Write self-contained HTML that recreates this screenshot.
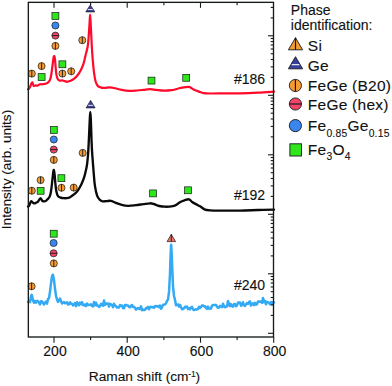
<!DOCTYPE html>
<html><head><meta charset="utf-8"><style>
html,body{margin:0;padding:0;background:#fff;}
svg{display:block;}
text{font-family:"Liberation Sans",sans-serif;fill:#111;stroke:#111;stroke-width:0.12px;}
</style></head><body>
<svg width="392" height="386" viewBox="0 0 392 386">
<g fill="none" stroke-linejoin="round" stroke-linecap="round">
<polyline points="28.0,301.9 29.0,301.2 30.0,302.1 31.0,296.7 31.6,294.8 32.0,295.7 33.0,300.4 34.0,302.8 35.0,300.8 36.0,302.6 37.0,301.0 38.0,301.1 39.0,302.6 40.0,304.4 41.0,301.2 42.0,301.5 43.0,303.1 44.0,304.4 45.0,302.6 46.0,301.6 47.0,303.6 48.0,298.9 49.0,298.3 50.0,291.6 51.0,283.3 52.0,276.4 52.7,274.7 53.0,275.0 54.0,280.2 55.0,288.6 56.0,295.9 57.0,299.5 58.0,301.9 59.0,300.4 60.0,298.5 61.0,301.3 62.0,303.5 63.0,302.5 64.0,302.0 65.0,303.3 66.0,302.8 67.0,302.3 68.0,304.5 69.0,304.2 70.0,302.3 71.0,303.8 72.0,303.7 73.0,305.4 74.0,304.8 75.0,303.0 76.0,306.1 77.0,302.3 78.0,303.7 79.0,305.2 80.0,302.6 81.0,304.1 82.0,302.2 83.0,305.0 84.0,305.4 85.0,304.6 86.0,306.0 87.0,303.5 88.0,305.2 89.0,304.8 90.0,304.8 91.0,304.3 92.0,306.0 93.0,306.5 94.0,302.0 95.0,305.3 96.0,302.7 97.0,305.6 98.0,305.4 99.0,306.9 100.0,306.2 101.0,303.9 102.0,304.4 103.0,305.7 104.0,300.4 105.0,304.9 106.0,303.7 107.0,303.5 108.0,303.4 109.0,306.5 110.0,303.8 111.0,304.4 112.0,305.1 113.0,307.3 114.0,303.8 115.0,305.5 116.0,306.0 117.0,307.6 118.0,307.3 119.0,307.6 120.0,305.1 121.0,305.8 122.0,305.6 123.0,307.9 124.0,308.3 125.0,304.9 126.0,305.0 127.0,305.4 128.0,305.5 129.0,306.8 130.0,307.3 131.0,306.0 132.0,305.0 133.0,307.0 134.0,306.9 135.0,307.9 136.0,309.7 137.0,308.7 138.0,308.0 139.0,308.6 140.0,309.0 141.0,306.3 142.0,310.1 143.0,309.6 144.0,310.1 145.0,309.8 146.0,308.1 147.0,308.2 148.0,306.9 149.0,309.3 150.0,306.9 151.0,306.8 152.0,307.3 153.0,307.0 154.0,307.7 155.0,306.3 156.0,306.0 157.0,306.5 158.0,306.1 159.0,307.1 160.0,305.5 161.0,308.7 162.0,307.2 163.0,304.8 164.0,304.7 165.0,304.3 166.0,303.3 167.0,300.9 168.0,299.6 169.0,291.9 170.0,273.7 170.6,255.8 171.0,246.2 171.2,244.8 171.8,255.9 172.0,262.1 173.0,286.3 174.0,296.0 175.0,299.9 176.0,305.3 177.0,305.1 178.0,304.4 179.0,306.6 180.0,304.8 181.0,307.2 182.0,309.3 183.0,309.0 184.0,308.4 185.0,306.7 186.0,307.2 187.0,306.5 188.0,309.1 189.0,308.2 190.0,309.3 191.0,307.3 192.0,306.9 193.0,309.4 194.0,310.1 195.0,309.6 196.0,309.3 197.0,309.4 198.0,309.0 199.0,306.7 200.0,307.9 201.0,307.1 202.0,305.5 203.0,305.4 204.0,306.4 205.0,306.2 206.0,307.9 207.0,308.9 208.0,306.6 209.0,308.6 210.0,308.7 211.0,308.5 212.0,305.8 213.0,305.1 214.0,305.1 215.0,304.9 216.0,304.9 217.0,306.7 218.0,307.8 219.0,307.5 220.0,305.9 221.0,306.5 222.0,307.1 223.0,303.8 224.0,306.3 225.0,307.3 226.0,306.6 227.0,306.4 228.0,301.1 229.0,303.7 230.0,306.2 231.0,304.1 232.0,306.1 233.0,306.7 234.0,304.1 235.0,304.0 236.0,306.3 237.0,305.3 238.0,302.7 239.0,302.4 240.0,302.4 241.0,305.7 242.0,305.2 243.0,302.3 244.0,305.3 245.0,305.9 246.0,304.4 247.0,303.0 248.0,303.9 249.0,302.0 250.0,301.4 251.0,305.6 252.0,304.0 253.0,303.4 254.0,305.1 255.0,302.8 256.0,304.6 257.0,304.3 258.0,301.5 259.0,301.6 260.0,301.7 261.0,301.4 262.0,302.9 263.0,298.0 264.0,302.1 265.0,300.9 266.0,304.3 267.0,301.8 268.0,302.2 269.0,302.8 270.0,304.2 271.0,302.0 272.0,304.2 273.0,302.3 274.0,302.4" stroke="#34a9f4" stroke-width="2.5"/>
<path d="M28.00,206.50 C28.15,206.42 28.60,206.38 28.90,206.00 C29.20,205.62 29.45,204.98 29.80,204.20 C30.15,203.42 30.63,201.70 31.00,201.30 C31.37,200.90 31.63,201.53 32.00,201.80 C32.37,202.07 32.78,202.63 33.20,202.90 C33.62,203.17 34.08,203.40 34.50,203.40 C34.92,203.40 35.28,203.08 35.70,202.90 C36.12,202.72 36.58,202.55 37.00,202.30 C37.42,202.05 37.80,201.88 38.20,201.40 C38.60,200.92 39.03,199.92 39.40,199.40 C39.77,198.88 40.08,198.32 40.40,198.30 C40.72,198.28 40.95,198.85 41.30,199.30 C41.65,199.75 42.03,200.67 42.50,201.00 C42.97,201.33 43.57,201.30 44.10,201.30 C44.63,201.30 45.17,201.30 45.70,201.00 C46.23,200.70 46.72,200.08 47.30,199.50 C47.88,198.92 48.67,198.42 49.20,197.50 C49.73,196.58 50.13,195.50 50.50,194.00 C50.87,192.50 51.10,190.75 51.40,188.50 C51.70,186.25 52.02,183.00 52.30,180.50 C52.58,178.00 52.85,175.27 53.10,173.50 C53.35,171.73 53.55,169.77 53.80,169.90 C54.05,170.03 54.33,172.00 54.60,174.30 C54.87,176.60 55.10,180.82 55.40,183.70 C55.70,186.58 55.97,189.53 56.40,191.60 C56.83,193.67 57.30,195.10 58.00,196.10 C58.70,197.10 59.65,197.25 60.60,197.60 C61.55,197.95 62.67,198.10 63.70,198.20 C64.73,198.30 65.75,198.37 66.80,198.20 C67.85,198.03 68.75,197.87 70.00,197.20 C71.25,196.53 73.00,195.30 74.30,194.20 C75.60,193.10 76.62,192.27 77.80,190.60 C78.98,188.93 80.33,186.45 81.40,184.20 C82.47,181.95 83.43,179.48 84.20,177.10 C84.97,174.72 85.52,172.05 86.00,169.90 C86.48,167.75 86.77,166.68 87.10,164.20 C87.43,161.72 87.75,158.20 88.00,155.00 C88.25,151.80 88.38,149.17 88.60,145.00 C88.82,140.83 89.10,134.33 89.30,130.00 C89.50,125.67 89.63,122.00 89.80,119.00 C89.97,116.00 90.13,112.00 90.30,112.00 C90.47,112.00 90.65,116.00 90.80,119.00 C90.95,122.00 91.07,126.17 91.20,130.00 C91.33,133.83 91.45,138.33 91.60,142.00 C91.75,145.67 91.90,148.77 92.10,152.00 C92.30,155.23 92.52,157.70 92.80,161.40 C93.08,165.10 93.45,170.17 93.80,174.20 C94.15,178.23 94.35,182.03 94.90,185.60 C95.45,189.17 96.27,193.22 97.10,195.60 C97.93,197.98 98.98,198.95 99.90,199.90 C100.82,200.85 101.52,201.08 102.60,201.30 C103.68,201.52 105.03,201.28 106.40,201.20 C107.77,201.12 109.32,200.57 110.80,200.80 C112.28,201.03 113.48,201.93 115.30,202.60 C117.12,203.27 119.57,204.27 121.70,204.80 C123.83,205.33 125.77,205.73 128.10,205.80 C130.43,205.87 133.15,205.48 135.70,205.20 C138.25,204.92 141.02,204.42 143.40,204.10 C145.78,203.78 148.27,203.32 150.00,203.30 C151.73,203.28 152.27,203.55 153.80,204.00 C155.33,204.45 157.28,205.55 159.20,206.00 C161.12,206.45 163.00,206.68 165.30,206.70 C167.60,206.72 171.08,206.45 173.00,206.10 C174.92,205.75 175.65,205.25 176.80,204.60 C177.95,203.95 178.62,202.92 179.90,202.20 C181.18,201.48 182.98,200.78 184.50,200.30 C186.02,199.82 187.73,199.02 189.00,199.30 C190.27,199.58 190.95,201.20 192.10,202.00 C193.25,202.80 194.50,203.33 195.90,204.10 C197.30,204.87 199.08,205.73 200.50,206.60 C201.92,207.47 202.82,208.68 204.40,209.30 C205.98,209.92 207.40,210.08 210.00,210.30 C212.60,210.52 215.00,210.55 220.00,210.60 C225.00,210.65 233.65,210.70 240.00,210.60 C246.35,210.50 252.43,210.17 258.10,210.00 C263.77,209.83 271.35,209.67 274.00,209.60" stroke="#0a0a0a" stroke-width="2.35"/>
<path d="M28.00,89.20 C28.15,89.13 28.55,89.18 28.90,88.80 C29.25,88.42 29.68,87.80 30.10,86.90 C30.52,86.00 31.03,84.15 31.40,83.40 C31.77,82.65 32.05,82.33 32.30,82.40 C32.55,82.47 32.70,83.28 32.90,83.80 C33.10,84.32 33.23,85.13 33.50,85.50 C33.77,85.87 34.13,86.02 34.50,86.00 C34.87,85.98 35.28,85.45 35.70,85.40 C36.12,85.35 36.58,85.75 37.00,85.70 C37.42,85.65 37.80,85.32 38.20,85.10 C38.60,84.88 38.98,84.57 39.40,84.40 C39.82,84.23 40.28,84.10 40.70,84.10 C41.12,84.10 41.48,84.40 41.90,84.40 C42.32,84.40 42.68,84.20 43.20,84.10 C43.72,84.00 44.38,83.93 45.00,83.80 C45.62,83.67 46.30,83.60 46.90,83.30 C47.50,83.00 48.07,82.62 48.60,82.00 C49.13,81.38 49.65,80.85 50.10,79.60 C50.55,78.35 50.90,76.85 51.30,74.50 C51.70,72.15 52.13,68.32 52.50,65.50 C52.87,62.68 53.22,59.17 53.50,57.60 C53.78,56.03 53.97,55.98 54.20,56.10 C54.43,56.22 54.67,56.55 54.90,58.30 C55.13,60.05 55.35,63.88 55.60,66.60 C55.85,69.32 56.00,72.45 56.40,74.60 C56.80,76.75 57.38,78.50 58.00,79.50 C58.62,80.50 59.42,80.47 60.10,80.60 C60.78,80.73 61.33,80.22 62.10,80.30 C62.87,80.38 63.83,80.85 64.70,81.10 C65.57,81.35 66.42,81.83 67.30,81.80 C68.18,81.77 68.90,81.38 70.00,80.90 C71.10,80.42 72.60,79.88 73.90,78.90 C75.20,77.92 76.62,76.52 77.80,75.00 C78.98,73.48 80.03,71.75 81.00,69.80 C81.97,67.85 82.85,65.68 83.60,63.30 C84.35,60.92 84.97,57.65 85.50,55.50 C86.03,53.35 86.40,52.12 86.80,50.40 C87.20,48.68 87.58,47.60 87.90,45.20 C88.22,42.80 88.43,39.53 88.70,36.00 C88.97,32.47 89.27,27.57 89.50,24.00 C89.73,20.43 89.90,14.60 90.10,14.60 C90.30,14.60 90.50,20.43 90.70,24.00 C90.90,27.57 91.10,32.03 91.30,36.00 C91.50,39.97 91.67,43.90 91.90,47.80 C92.13,51.70 92.35,55.30 92.70,59.40 C93.05,63.50 93.52,68.72 94.00,72.40 C94.48,76.08 94.97,79.23 95.60,81.50 C96.23,83.77 97.07,85.07 97.80,86.00 C98.53,86.93 99.32,86.80 100.00,87.10 C100.68,87.40 101.05,87.68 101.90,87.80 C102.75,87.92 103.72,87.88 105.10,87.80 C106.48,87.72 108.50,87.22 110.20,87.30 C111.90,87.38 113.38,87.87 115.30,88.30 C117.22,88.73 119.37,89.47 121.70,89.90 C124.03,90.33 126.75,90.80 129.30,90.90 C131.85,91.00 134.65,90.67 137.00,90.50 C139.35,90.33 141.23,90.12 143.40,89.90 C145.57,89.68 147.88,89.20 150.00,89.20 C152.12,89.20 153.80,89.65 156.10,89.90 C158.40,90.15 161.25,90.65 163.80,90.70 C166.35,90.75 169.10,90.53 171.40,90.20 C173.70,89.87 175.80,89.13 177.60,88.70 C179.40,88.27 180.30,87.90 182.20,87.60 C184.10,87.30 187.10,86.60 189.00,86.90 C190.90,87.20 191.93,88.62 193.60,89.40 C195.27,90.18 197.33,90.98 199.00,91.60 C200.67,92.22 201.77,92.78 203.60,93.10 C205.43,93.42 206.43,93.45 210.00,93.50 C213.57,93.55 220.00,93.43 225.00,93.40 C230.00,93.37 234.48,93.43 240.00,93.30 C245.52,93.17 252.43,92.88 258.10,92.60 C263.77,92.32 271.35,91.77 274.00,91.60" stroke="#ff0a2a" stroke-width="2.2"/>
</g>
<rect x="51.949999999999996" y="12.55" width="6.9" height="6.9" fill="#2ee61a" stroke="#151a1a" stroke-width="0.7"/><circle cx="55.4" cy="25.5" r="3.55" fill="#3a86f0" stroke="#151a1a" stroke-width="0.7"/><circle cx="55.4" cy="35.6" r="3.55" fill="#ef4466" stroke="#151a1a" stroke-width="0.7"/><line x1="51.85" y1="35.6" x2="58.949999999999996" y2="35.6" stroke="#151a1a" stroke-width="0.9099999999999999"/><circle cx="55.4" cy="45.9" r="3.55" fill="#f59b32" stroke="#151a1a" stroke-width="0.7"/><line x1="55.4" y1="42.35" x2="55.4" y2="49.449999999999996" stroke="#151a1a" stroke-width="0.9099999999999999"/><circle cx="31.8" cy="73.6" r="3.55" fill="#f59b32" stroke="#151a1a" stroke-width="0.7"/><line x1="31.8" y1="70.05" x2="31.8" y2="77.14999999999999" stroke="#151a1a" stroke-width="0.9099999999999999"/><circle cx="41.6" cy="66.1" r="3.55" fill="#f59b32" stroke="#151a1a" stroke-width="0.7"/><line x1="41.6" y1="62.55" x2="41.6" y2="69.64999999999999" stroke="#151a1a" stroke-width="0.9099999999999999"/><rect x="38.15" y="73.64999999999999" width="6.9" height="6.9" fill="#2ee61a" stroke="#151a1a" stroke-width="0.7"/><rect x="58.949999999999996" y="60.849999999999994" width="6.9" height="6.9" fill="#2ee61a" stroke="#151a1a" stroke-width="0.7"/><circle cx="62.4" cy="73.6" r="3.55" fill="#f59b32" stroke="#151a1a" stroke-width="0.7"/><line x1="62.4" y1="70.05" x2="62.4" y2="77.14999999999999" stroke="#151a1a" stroke-width="0.9099999999999999"/><circle cx="71.2" cy="71.3" r="3.55" fill="#f59b32" stroke="#151a1a" stroke-width="0.7"/><line x1="71.2" y1="67.75" x2="71.2" y2="74.85" stroke="#151a1a" stroke-width="0.9099999999999999"/><circle cx="82.3" cy="40.2" r="3.55" fill="#f59b32" stroke="#151a1a" stroke-width="0.7"/><line x1="82.3" y1="36.650000000000006" x2="82.3" y2="43.75" stroke="#151a1a" stroke-width="0.9099999999999999"/><polygon points="90.3,4.9 85.8,11.9 94.8,11.9" fill="#3b3f9c" stroke="#151a1a" stroke-width="0.7" stroke-linejoin="miter"/><line x1="87.86999999999999" y1="9.52" x2="92.73" y2="9.52" stroke="#fff" stroke-width="0.84"/><rect x="148.05" y="77.14999999999999" width="6.9" height="6.9" fill="#2ee61a" stroke="#151a1a" stroke-width="0.7"/><rect x="182.75" y="74.35" width="6.9" height="6.9" fill="#2ee61a" stroke="#151a1a" stroke-width="0.7"/><rect x="50.349999999999994" y="126.55" width="6.9" height="6.9" fill="#2ee61a" stroke="#151a1a" stroke-width="0.7"/><circle cx="53.8" cy="139.5" r="3.55" fill="#3a86f0" stroke="#151a1a" stroke-width="0.7"/><circle cx="53.8" cy="149.6" r="3.55" fill="#ef4466" stroke="#151a1a" stroke-width="0.7"/><line x1="50.25" y1="149.6" x2="57.349999999999994" y2="149.6" stroke="#151a1a" stroke-width="0.9099999999999999"/><circle cx="53.8" cy="159.9" r="3.55" fill="#f59b32" stroke="#151a1a" stroke-width="0.7"/><line x1="53.8" y1="156.35" x2="53.8" y2="163.45000000000002" stroke="#151a1a" stroke-width="0.9099999999999999"/><circle cx="31.8" cy="190.7" r="3.55" fill="#f59b32" stroke="#151a1a" stroke-width="0.7"/><line x1="31.8" y1="187.14999999999998" x2="31.8" y2="194.25" stroke="#151a1a" stroke-width="0.9099999999999999"/><circle cx="40.6" cy="180.1" r="3.55" fill="#f59b32" stroke="#151a1a" stroke-width="0.7"/><line x1="40.6" y1="176.54999999999998" x2="40.6" y2="183.65" stroke="#151a1a" stroke-width="0.9099999999999999"/><rect x="37.15" y="187.35000000000002" width="6.9" height="6.9" fill="#2ee61a" stroke="#151a1a" stroke-width="0.7"/><rect x="57.949999999999996" y="174.75" width="6.9" height="6.9" fill="#2ee61a" stroke="#151a1a" stroke-width="0.7"/><circle cx="61.5" cy="187.8" r="3.55" fill="#f59b32" stroke="#151a1a" stroke-width="0.7"/><line x1="61.5" y1="184.25" x2="61.5" y2="191.35000000000002" stroke="#151a1a" stroke-width="0.9099999999999999"/><circle cx="73.7" cy="187.6" r="3.55" fill="#f59b32" stroke="#151a1a" stroke-width="0.7"/><line x1="73.7" y1="184.04999999999998" x2="73.7" y2="191.15" stroke="#151a1a" stroke-width="0.9099999999999999"/><circle cx="82.7" cy="152.9" r="3.55" fill="#f59b32" stroke="#151a1a" stroke-width="0.7"/><line x1="82.7" y1="149.35" x2="82.7" y2="156.45000000000002" stroke="#151a1a" stroke-width="0.9099999999999999"/><polygon points="90.6,100.4 86.1,107.9 95.1,107.9" fill="#3b3f9c" stroke="#151a1a" stroke-width="0.7" stroke-linejoin="miter"/><line x1="88.16999999999999" y1="105.35000000000001" x2="93.03" y2="105.35000000000001" stroke="#fff" stroke-width="0.84"/><rect x="149.65" y="189.95000000000002" width="6.9" height="6.9" fill="#2ee61a" stroke="#151a1a" stroke-width="0.7"/><rect x="184.55" y="186.85000000000002" width="6.9" height="6.9" fill="#2ee61a" stroke="#151a1a" stroke-width="0.7"/><rect x="50.25" y="230.25" width="6.9" height="6.9" fill="#2ee61a" stroke="#151a1a" stroke-width="0.7"/><circle cx="53.6" cy="243" r="3.55" fill="#3a86f0" stroke="#151a1a" stroke-width="0.7"/><circle cx="53.6" cy="253.3" r="3.55" fill="#ef4466" stroke="#151a1a" stroke-width="0.7"/><line x1="50.050000000000004" y1="253.3" x2="57.15" y2="253.3" stroke="#151a1a" stroke-width="0.9099999999999999"/><circle cx="53.8" cy="263.4" r="3.55" fill="#f59b32" stroke="#151a1a" stroke-width="0.7"/><line x1="53.8" y1="259.84999999999997" x2="53.8" y2="266.95" stroke="#151a1a" stroke-width="0.9099999999999999"/><circle cx="31.6" cy="286.3" r="3.55" fill="#f59b32" stroke="#151a1a" stroke-width="0.7"/><line x1="31.6" y1="282.75" x2="31.6" y2="289.85" stroke="#151a1a" stroke-width="0.9099999999999999"/><polygon points="171.3,234.3 167.05,241.60000000000002 175.55,241.60000000000002" fill="#f07468" stroke="#151a1a" stroke-width="0.7" stroke-linejoin="miter"/><line x1="171.3" y1="234.3" x2="171.3" y2="241.60000000000002" stroke="#151a1a" stroke-width="0.9099999999999999"/>
<rect x="28.35" y="2.35" width="245.15" height="334.65" fill="none" stroke="#151a1a" stroke-width="1.35"/>
<g stroke="#151a1a" stroke-width="1.1"><line x1="54.0" y1="337.0" x2="54.0" y2="342.7"/><line x1="90.6" y1="337.0" x2="90.6" y2="340.0"/><line x1="127.2" y1="337.0" x2="127.2" y2="342.7"/><line x1="163.9" y1="337.0" x2="163.9" y2="340.0"/><line x1="200.5" y1="337.0" x2="200.5" y2="342.7"/><line x1="237.1" y1="337.0" x2="237.1" y2="340.0"/><line x1="273.7" y1="337.0" x2="273.7" y2="342.7"/><line x1="54.0" y1="2.35" x2="54.0" y2="7.85"/><line x1="90.6" y1="2.35" x2="90.6" y2="5.15"/><line x1="127.2" y1="2.35" x2="127.2" y2="7.85"/><line x1="163.9" y1="2.35" x2="163.9" y2="5.15"/><line x1="200.5" y1="2.35" x2="200.5" y2="7.85"/><line x1="237.1" y1="2.35" x2="237.1" y2="5.15"/><line x1="268.0" y1="35.8" x2="273.5" y2="35.8"/><line x1="268.0" y1="95.3" x2="273.5" y2="95.3"/><line x1="268.0" y1="154.8" x2="273.5" y2="154.8"/><line x1="268.0" y1="214.3" x2="273.5" y2="214.3"/><line x1="268.0" y1="273.8" x2="273.5" y2="273.8"/><line x1="268.0" y1="333.3" x2="273.5" y2="333.3"/><line x1="270.7" y1="17.9" x2="273.5" y2="17.9"/><line x1="270.7" y1="7.4" x2="273.5" y2="7.4"/><line x1="270.7" y1="77.4" x2="273.5" y2="77.4"/><line x1="270.7" y1="66.9" x2="273.5" y2="66.9"/><line x1="270.7" y1="59.5" x2="273.5" y2="59.5"/><line x1="270.7" y1="53.7" x2="273.5" y2="53.7"/><line x1="270.7" y1="49.0" x2="273.5" y2="49.0"/><line x1="270.7" y1="45.0" x2="273.5" y2="45.0"/><line x1="270.7" y1="41.6" x2="273.5" y2="41.6"/><line x1="270.7" y1="38.5" x2="273.5" y2="38.5"/><line x1="270.7" y1="136.9" x2="273.5" y2="136.9"/><line x1="270.7" y1="126.4" x2="273.5" y2="126.4"/><line x1="270.7" y1="119.0" x2="273.5" y2="119.0"/><line x1="270.7" y1="113.2" x2="273.5" y2="113.2"/><line x1="270.7" y1="108.5" x2="273.5" y2="108.5"/><line x1="270.7" y1="104.5" x2="273.5" y2="104.5"/><line x1="270.7" y1="101.1" x2="273.5" y2="101.1"/><line x1="270.7" y1="98.0" x2="273.5" y2="98.0"/><line x1="270.7" y1="196.4" x2="273.5" y2="196.4"/><line x1="270.7" y1="185.9" x2="273.5" y2="185.9"/><line x1="270.7" y1="178.5" x2="273.5" y2="178.5"/><line x1="270.7" y1="172.7" x2="273.5" y2="172.7"/><line x1="270.7" y1="168.0" x2="273.5" y2="168.0"/><line x1="270.7" y1="164.0" x2="273.5" y2="164.0"/><line x1="270.7" y1="160.6" x2="273.5" y2="160.6"/><line x1="270.7" y1="157.5" x2="273.5" y2="157.5"/><line x1="270.7" y1="255.9" x2="273.5" y2="255.9"/><line x1="270.7" y1="245.4" x2="273.5" y2="245.4"/><line x1="270.7" y1="238.0" x2="273.5" y2="238.0"/><line x1="270.7" y1="232.2" x2="273.5" y2="232.2"/><line x1="270.7" y1="227.5" x2="273.5" y2="227.5"/><line x1="270.7" y1="223.5" x2="273.5" y2="223.5"/><line x1="270.7" y1="220.1" x2="273.5" y2="220.1"/><line x1="270.7" y1="217.0" x2="273.5" y2="217.0"/><line x1="270.7" y1="315.4" x2="273.5" y2="315.4"/><line x1="270.7" y1="304.9" x2="273.5" y2="304.9"/><line x1="270.7" y1="297.5" x2="273.5" y2="297.5"/><line x1="270.7" y1="291.7" x2="273.5" y2="291.7"/><line x1="270.7" y1="287.0" x2="273.5" y2="287.0"/><line x1="270.7" y1="283.0" x2="273.5" y2="283.0"/><line x1="270.7" y1="279.6" x2="273.5" y2="279.6"/><line x1="270.7" y1="276.5" x2="273.5" y2="276.5"/></g>
<polygon points="295.5,37.7 288.4,49.800000000000004 302.6,49.800000000000004" fill="#f59b32" stroke="#151a1a" stroke-width="0.9" stroke-linejoin="miter"/><line x1="295.5" y1="37.7" x2="295.5" y2="49.800000000000004" stroke="#151a1a" stroke-width="1.1700000000000002"/><polygon points="295.5,56.7 288.4,68.8 302.6,68.8" fill="#3b3f9c" stroke="#151a1a" stroke-width="0.9" stroke-linejoin="miter"/><line x1="291.666" y1="64.686" x2="299.334" y2="64.686" stroke="#fff" stroke-width="1.08"/><circle cx="295.4" cy="85.5" r="6.1" fill="#f59b32" stroke="#151a1a" stroke-width="0.9"/><line x1="295.4" y1="79.4" x2="295.4" y2="91.6" stroke="#151a1a" stroke-width="1.1700000000000002"/><circle cx="295.4" cy="104" r="6.1" fill="#ef4466" stroke="#151a1a" stroke-width="0.9"/><line x1="289.29999999999995" y1="104" x2="301.5" y2="104" stroke="#151a1a" stroke-width="1.1700000000000002"/><circle cx="295.4" cy="125.6" r="6.1" fill="#3a86f0" stroke="#151a1a" stroke-width="0.9"/><rect x="289.9" y="143.8" width="11.6" height="12.2" fill="#2ee61a" stroke="#151a1a" stroke-width="0.9"/>
<g><text x="55.0" y="356" font-size="14" text-anchor="middle">200</text><text x="128.2" y="356" font-size="14" text-anchor="middle">400</text><text x="201.5" y="356" font-size="14" text-anchor="middle">600</text><text x="274.7" y="356" font-size="14" text-anchor="middle">800</text><text x="88.8" y="381" font-size="13.7">Raman shift (cm<tspan x="188.2" dy="-3.7" font-size="8.5">-1</tspan><tspan x="195.6" dy="3.7">)</tspan></text><text transform="translate(11.3,169.5) rotate(-90)" font-size="13.6" text-anchor="middle">Intensity (arb. units)</text><text x="265.1" y="83.6" font-size="14" text-anchor="end">#186</text><text x="265.1" y="199.6" font-size="14" text-anchor="end">#192</text><text x="265.1" y="289.6" font-size="14" text-anchor="end">#240</text><text x="290.8" y="15" font-size="14">Phase</text><text x="290.8" y="29.5" font-size="14">identification:</text><text x="307.8" y="50.6" font-size="15.5" letter-spacing="0.25">Si</text><text x="307.8" y="70.5" font-size="15.5" letter-spacing="0.25">Ge</text><text x="307.8" y="90.5" font-size="15.5" letter-spacing="0.25">FeGe (B20)</text><text x="307.8" y="110" font-size="15.5" letter-spacing="0.25">FeGe (hex)</text><text x="307.8" y="131.2" font-size="15.5" letter-spacing="0.25">Fe<tspan dy="5.3" font-size="10.3">0.85</tspan><tspan dy="-5.3">Ge</tspan><tspan dy="5.3" font-size="10.3">0.15</tspan></text><text x="307.8" y="155.1" font-size="15.5" letter-spacing="0.25">Fe<tspan dy="5.3" font-size="10.3">3</tspan><tspan dy="-5.3">O</tspan><tspan dy="5.3" font-size="10.3">4</tspan></text></g>
</svg>
</body></html>
